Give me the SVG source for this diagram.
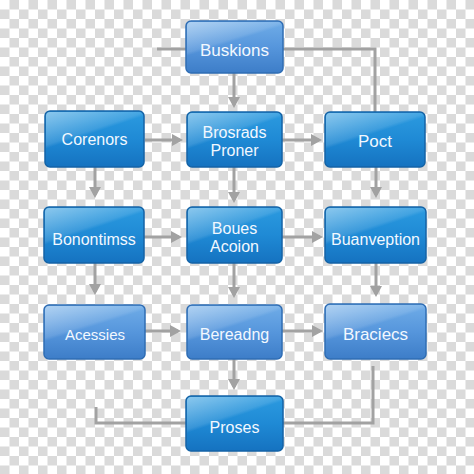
<svg xmlns="http://www.w3.org/2000/svg" width="474" height="474" viewBox="0 0 474 474">
<defs>
<pattern id="checker" width="19" height="19" patternUnits="userSpaceOnUse">
<rect width="19" height="19" fill="#ffffff"/>
<rect x="9.5" y="0" width="9.5" height="9.5" fill="#dadada"/>
<rect x="0" y="9.5" width="9.5" height="9.5" fill="#dadada"/>
</pattern>
<linearGradient id="bright" x1="0" y1="0" x2="0" y2="1">
<stop offset="0" stop-color="#2c9be0"/>
<stop offset="0.5" stop-color="#1f8ad5"/>
<stop offset="1" stop-color="#1572c0"/>
</linearGradient>
<linearGradient id="soft" x1="0" y1="0" x2="0" y2="1">
<stop offset="0" stop-color="#70ade8"/>
<stop offset="0.5" stop-color="#5696dc"/>
<stop offset="1" stop-color="#3d7dc8"/>
</linearGradient>
<linearGradient id="gloss" x1="0" y1="0" x2="0.6" y2="1">
<stop offset="0" stop-color="#ffffff" stop-opacity="0.45"/>
<stop offset="0.45" stop-color="#ffffff" stop-opacity="0.12"/>
<stop offset="0.5" stop-color="#ffffff" stop-opacity="0"/>
</linearGradient>
<marker id="arr" markerUnits="userSpaceOnUse" markerWidth="12" markerHeight="12" refX="8" refY="6" orient="auto">
<path d="M0,0 L11,6 L0,12 z" fill="#a2a2a2"/>
</marker>
<style>
.box-b{fill:url(#bright);stroke:#1463a6;stroke-width:1.5}
.box-s{fill:url(#soft);stroke:#2f6db4;stroke-width:1.5}
.gl{fill:url(#gloss);stroke:none}
.t{font-family:"Liberation Sans",Arial,sans-serif;font-size:16px;fill:#f2f8ff;text-anchor:middle}
.c{fill:none;stroke:#a2a2a2;stroke-width:3}
.a{marker-end:url(#arr)}
</style>
</defs>
<rect width="474" height="474" fill="url(#checker)"/>
<g id="connectors">
<path class="c" d="M157,49 H186"/>
<path class="c" d="M283,49 H375 V112"/>
<path class="c a" d="M234,73 V105"/>
<path class="c a" d="M145,140 H180"/>
<path class="c a" d="M282,140 H319"/>
<path class="c a" d="M95,167 V195"/>
<path class="c a" d="M234,167 V200"/>
<path class="c a" d="M376,167 V195"/>
<path class="c a" d="M144,237 H179"/>
<path class="c a" d="M282,237 H320"/>
<path class="c a" d="M95,263 V292"/>
<path class="c a" d="M234,263 V295"/>
<path class="c a" d="M376,263 V294"/>
<path class="c a" d="M145,331 H178"/>
<path class="c a" d="M282,331 H320"/>
<path class="c a" d="M234,359 V387"/>
<path class="c" d="M186,423 H96 V407"/>
<path class="c" d="M283,423 H373 V366"/>
</g>
<g id="n-buskions">
<rect class="box-s" x="186" y="21" width="97" height="52" rx="5"/>
<rect class="gl" x="187" y="22" width="95" height="50" rx="4"/>
<text class="t" x="234.5" y="56" style="font-size:17px">Buskions</text>
</g>
<g id="n-corenors">
<rect class="box-b" x="45" y="111" width="99" height="56" rx="5"/>
<rect class="gl" x="46" y="112" width="97" height="54" rx="4"/>
<text class="t" x="94.5" y="145">Corenors</text>
</g>
<g id="n-brosrads">
<rect class="box-b" x="187" y="112" width="95" height="55" rx="5"/>
<rect class="gl" x="188" y="113" width="93" height="53" rx="4"/>
<text class="t" x="234.5" y="138">Brosrads</text>
<text class="t" x="234.5" y="156">Proner</text>
</g>
<g id="n-poct">
<rect class="box-b" x="325" y="112" width="100" height="55" rx="5"/>
<rect class="gl" x="326" y="113" width="98" height="53" rx="4"/>
<text class="t" x="375" y="147" style="font-size:17px">Poct</text>
</g>
<g id="n-bonontimss">
<rect class="box-b" x="44" y="207" width="100" height="56" rx="5"/>
<rect class="gl" x="45" y="208" width="98" height="54" rx="4"/>
<text class="t" x="94" y="245">Bonontimss</text>
</g>
<g id="n-boues">
<rect class="box-b" x="187" y="207" width="95" height="56" rx="5"/>
<rect class="gl" x="188" y="208" width="93" height="54" rx="4"/>
<text class="t" x="234.5" y="234">Boues</text>
<text class="t" x="234.5" y="252">Acoion</text>
</g>
<g id="n-buanveption">
<rect class="box-b" x="325" y="207" width="101" height="56" rx="5"/>
<rect class="gl" x="326" y="208" width="99" height="54" rx="4"/>
<text class="t" x="375.5" y="245">Buanveption</text>
</g>
<g id="n-acessies">
<rect class="box-s" x="44" y="305" width="101" height="54" rx="5"/>
<rect class="gl" x="45" y="306" width="99" height="52" rx="4"/>
<text class="t" x="95" y="340" style="font-size:15px">Acessies</text>
</g>
<g id="n-bereadng">
<rect class="box-s" x="187" y="305" width="95" height="54" rx="5"/>
<rect class="gl" x="188" y="306" width="93" height="52" rx="4"/>
<text class="t" x="234.5" y="340">Bereadng</text>
</g>
<g id="n-braciecs">
<rect class="box-s" x="325" y="304" width="101" height="55" rx="5"/>
<rect class="gl" x="326" y="305" width="99" height="53" rx="4"/>
<text class="t" x="375.5" y="340" style="font-size:17px">Braciecs</text>
</g>
<g id="n-proses">
<rect class="box-b" x="186" y="396" width="97" height="55" rx="5"/>
<rect class="gl" x="187" y="397" width="95" height="53" rx="4"/>
<text class="t" x="234.5" y="433">Proses</text>
</g>
</svg>
